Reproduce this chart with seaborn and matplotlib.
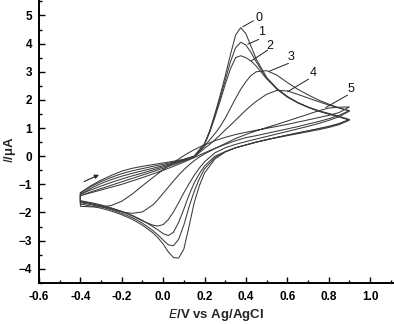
import matplotlib
matplotlib.use("Agg")
import matplotlib.pyplot as plt
from matplotlib.ticker import MultipleLocator, FormatStrFormatter
import seaborn as sns
import pandas as pd

# ---- data ----
E_fwd = [-0.4, -0.35, -0.3, -0.25, -0.2, -0.15, -0.1, -0.05, 0.0, 0.05, 0.1, 0.15,
         0.2, 0.225, 0.25, 0.275, 0.3, 0.325, 0.35, 0.375, 0.4, 0.425, 0.45,
         0.5, 0.55, 0.6, 0.65, 0.7, 0.75, 0.8, 0.85, 0.9]
E_rev = [0.9, 0.85, 0.8, 0.75, 0.7, 0.65, 0.6, 0.55, 0.5, 0.45, 0.4, 0.35, 0.3, 0.25,
         0.2, 0.175, 0.15, 0.125, 0.1, 0.075, 0.05, 0.025, 0.0, -0.025, -0.05,
         -0.1, -0.15, -0.2, -0.25, -0.3, -0.35, -0.4]

I_fwd_0 = [-1.3, -1.05, -0.85, -0.68, -0.53, -0.43, -0.36, -0.3, -0.24, -0.18, -0.11, 0.0,
           0.45, 0.9, 1.5, 2.15, 2.85, 3.6, 4.3, 4.57, 4.35, 3.9, 3.45,
           2.8, 2.4, 2.12, 1.9, 1.74, 1.6, 1.5, 1.4, 1.28]
I_fwd_1 = [-1.3, -1.08, -0.9, -0.75, -0.62, -0.52, -0.44, -0.36, -0.29, -0.21, -0.12, 0.0,
           0.43, 0.88, 1.45, 2.05, 2.7, 3.35, 3.85, 4.05, 3.95, 3.68, 3.35,
           2.78, 2.4, 2.12, 1.91, 1.75, 1.62, 1.52, 1.42, 1.3]
I_fwd_2 = [-1.35, -1.14, -0.97, -0.83, -0.71, -0.61, -0.52, -0.43, -0.34, -0.24, -0.13, -0.01,
           0.42, 0.85, 1.38, 1.95, 2.55, 3.1, 3.5, 3.57, 3.5, 3.38, 3.2,
           2.75, 2.38, 2.1, 1.9, 1.74, 1.61, 1.5, 1.4, 1.3]
I_fwd_3 = [-1.35, -1.2, -1.06, -0.93, -0.81, -0.7, -0.6, -0.49, -0.38, -0.27, -0.15, -0.02,
           0.35, 0.58, 0.8, 1.05, 1.35, 1.7, 2.05, 2.38, 2.65, 2.87, 3.0,
           3.04, 2.88, 2.62, 2.38, 2.18, 2.0, 1.85, 1.72, 1.6]
I_fwd_4 = [-1.4, -1.27, -1.15, -1.03, -0.91, -0.79, -0.67, -0.55, -0.43, -0.3, -0.17, -0.03,
           0.28, 0.42, 0.58, 0.75, 0.93, 1.1, 1.28, 1.46, 1.64, 1.8, 1.95,
           2.2, 2.34, 2.32, 2.2, 2.07, 1.94, 1.82, 1.71, 1.62]
I_fwd_5 = [-1.4, -1.3, -1.2, -1.1, -1.0, -0.88, -0.76, -0.63, -0.5, -0.36, -0.21, -0.05,
           0.12, 0.2, 0.28, 0.36, 0.45, 0.54, 0.63, 0.7, 0.77, 0.84, 0.9,
           1.02, 1.13, 1.25, 1.37, 1.49, 1.61, 1.71, 1.74, 1.75]

I_rev_0 = [1.28, 1.12, 1.02, 0.94, 0.87, 0.8, 0.73, 0.66, 0.58, 0.5, 0.4, 0.3, 0.15, -0.1,
           -0.6, -1.05, -1.65, -2.5, -3.3, -3.62, -3.6, -3.4, -3.12, -2.9, -2.72,
           -2.45, -2.24, -2.08, -1.95, -1.85, -1.77, -1.7]
I_rev_1 = [1.3, 1.15, 1.05, 0.97, 0.9, 0.82, 0.75, 0.67, 0.59, 0.5, 0.4, 0.3, 0.16, -0.05,
           -0.45, -0.8, -1.25, -1.8, -2.45, -2.95, -3.18, -3.15, -2.98, -2.8, -2.64,
           -2.38, -2.18, -2.03, -1.9, -1.8, -1.72, -1.65]
I_rev_2 = [1.3, 1.16, 1.06, 0.98, 0.9, 0.83, 0.75, 0.67, 0.59, 0.5, 0.4, 0.3, 0.16, 0.0,
           -0.35, -0.62, -0.95, -1.38, -1.88, -2.35, -2.7, -2.82, -2.75, -2.62, -2.5,
           -2.28, -2.1, -1.96, -1.85, -1.76, -1.68, -1.62]
I_rev_3 = [1.6, 1.4, 1.27, 1.16, 1.06, 0.97, 0.88, 0.79, 0.7, 0.61, 0.52, 0.42, 0.3, 0.12,
           -0.2, -0.42, -0.68, -0.98, -1.3, -1.65, -1.98, -2.25, -2.43, -2.48, -2.45,
           -2.3, -2.12, -1.97, -1.84, -1.73, -1.65, -1.58]
I_rev_4 = [1.62, 1.45, 1.33, 1.23, 1.14, 1.05, 0.97, 0.89, 0.81, 0.73, 0.66, 0.55, 0.42, 0.27,
           0.08, -0.03, -0.16, -0.31, -0.48, -0.67, -0.88, -1.1, -1.32, -1.54, -1.73,
           -1.98, -2.03, -1.98, -1.88, -1.77, -1.68, -1.6]
I_rev_5 = [1.75, 1.55, 1.45, 1.37, 1.29, 1.21, 1.13, 1.06, 0.99, 0.92, 0.85, 0.77, 0.67, 0.55,
           0.4, 0.32, 0.23, 0.13, 0.02, -0.1, -0.22, -0.35, -0.48, -0.62, -0.76,
           -1.05, -1.35, -1.6, -1.75, -1.8, -1.8, -1.78]

curve_names = ["0", "1", "2", "3", "4", "5"]
I_fwd = [I_fwd_0, I_fwd_1, I_fwd_2, I_fwd_3, I_fwd_4, I_fwd_5]
I_rev = [I_rev_0, I_rev_1, I_rev_2, I_rev_3, I_rev_4, I_rev_5]

# curve label positions: (text x, text y, leader start x, y, leader end x, y)
label_pos = [
    (0.462, 4.91, 0.385, 4.60, 0.436, 4.81),
    (0.475, 4.40, 0.409, 3.98, 0.462, 4.15),
    (0.515, 3.93, 0.425, 3.38, 0.505, 3.77),
    (0.620, 3.51, 0.513, 3.02, 0.606, 3.30),
    (0.724, 2.94, 0.601, 2.29, 0.703, 2.74),
    (0.909, 2.37, 0.786, 1.73, 0.891, 2.17),
]

rows = []
for name, f, r in zip(curve_names, I_fwd, I_rev):
    Es = E_fwd + E_rev + [E_fwd[0]]
    Is = f + r + [f[0]]
    for k, (e, i) in enumerate(zip(Es, Is)):
        rows.append({"curve": name, "order": k, "E": e, "I": i})
df = pd.DataFrame(rows)

sns.set_style("ticks")
plt.rcParams["font.family"] = ["Liberation Sans", "DejaVu Sans"]

fig = plt.figure(figsize=(3.94, 3.24), dpi=100)
ax = fig.add_axes([0.099, 0.127, 0.898, 0.873])

sns.lineplot(data=df, x="E", y="I", units="curve", estimator=None, sort=False,
             color="#3a3a3a", linewidth=0.75, ax=ax, legend=False)

ax.set_xlim(-0.6, 1.11)
ax.set_ylim(-4.5, 5.55)
ax.xaxis.set_major_locator(MultipleLocator(0.2))
ax.xaxis.set_minor_locator(MultipleLocator(0.1))
ax.yaxis.set_major_locator(MultipleLocator(1))
ax.yaxis.set_minor_locator(MultipleLocator(0.5))
ax.xaxis.set_major_formatter(FormatStrFormatter("%.1f"))
ax.tick_params(which="both", direction="in", width=1.0, colors="black")
ax.tick_params(which="major", length=4.5, labelsize=8.5)
ax.tick_params(axis="x", which="major", pad=6)
ax.tick_params(axis="y", which="major", pad=5)
ax.tick_params(which="minor", length=2.5)
for lab in ax.get_xticklabels() + ax.get_yticklabels():
    lab.set_fontweight("bold")

for s in ["top", "right"]:
    ax.spines[s].set_visible(False)
for s in ["left", "bottom"]:
    ax.spines[s].set_linewidth(1.4)
    ax.spines[s].set_color("black")

ax.set_xlabel(r"$\bf{\it{E}}$/V vs Ag/AgCl", fontsize=9.5, fontweight="bold")
ax.xaxis.set_label_coords(0.5, -0.085)
ax.set_ylabel(r"$\bf{\it{I}}$/μA", fontsize=9.5, fontweight="bold")
ax.yaxis.set_label_coords(-0.058, 0.47)

for name, (tx, ty, x0, y0, x1, y1) in zip(curve_names, label_pos):
    ax.plot([x0, x1], [y0, y1], color="#222222", linewidth=0.7)
    ax.text(tx, ty, name, fontsize=9, ha="center", va="center", color="#111111")

ax.annotate("", xy=(-0.298, -0.62), xytext=(-0.394, -0.94),
            arrowprops=dict(arrowstyle="-|>", color="#222222", lw=0.8,
                            mutation_scale=6))

fig.savefig("out.png", dpi=100)
